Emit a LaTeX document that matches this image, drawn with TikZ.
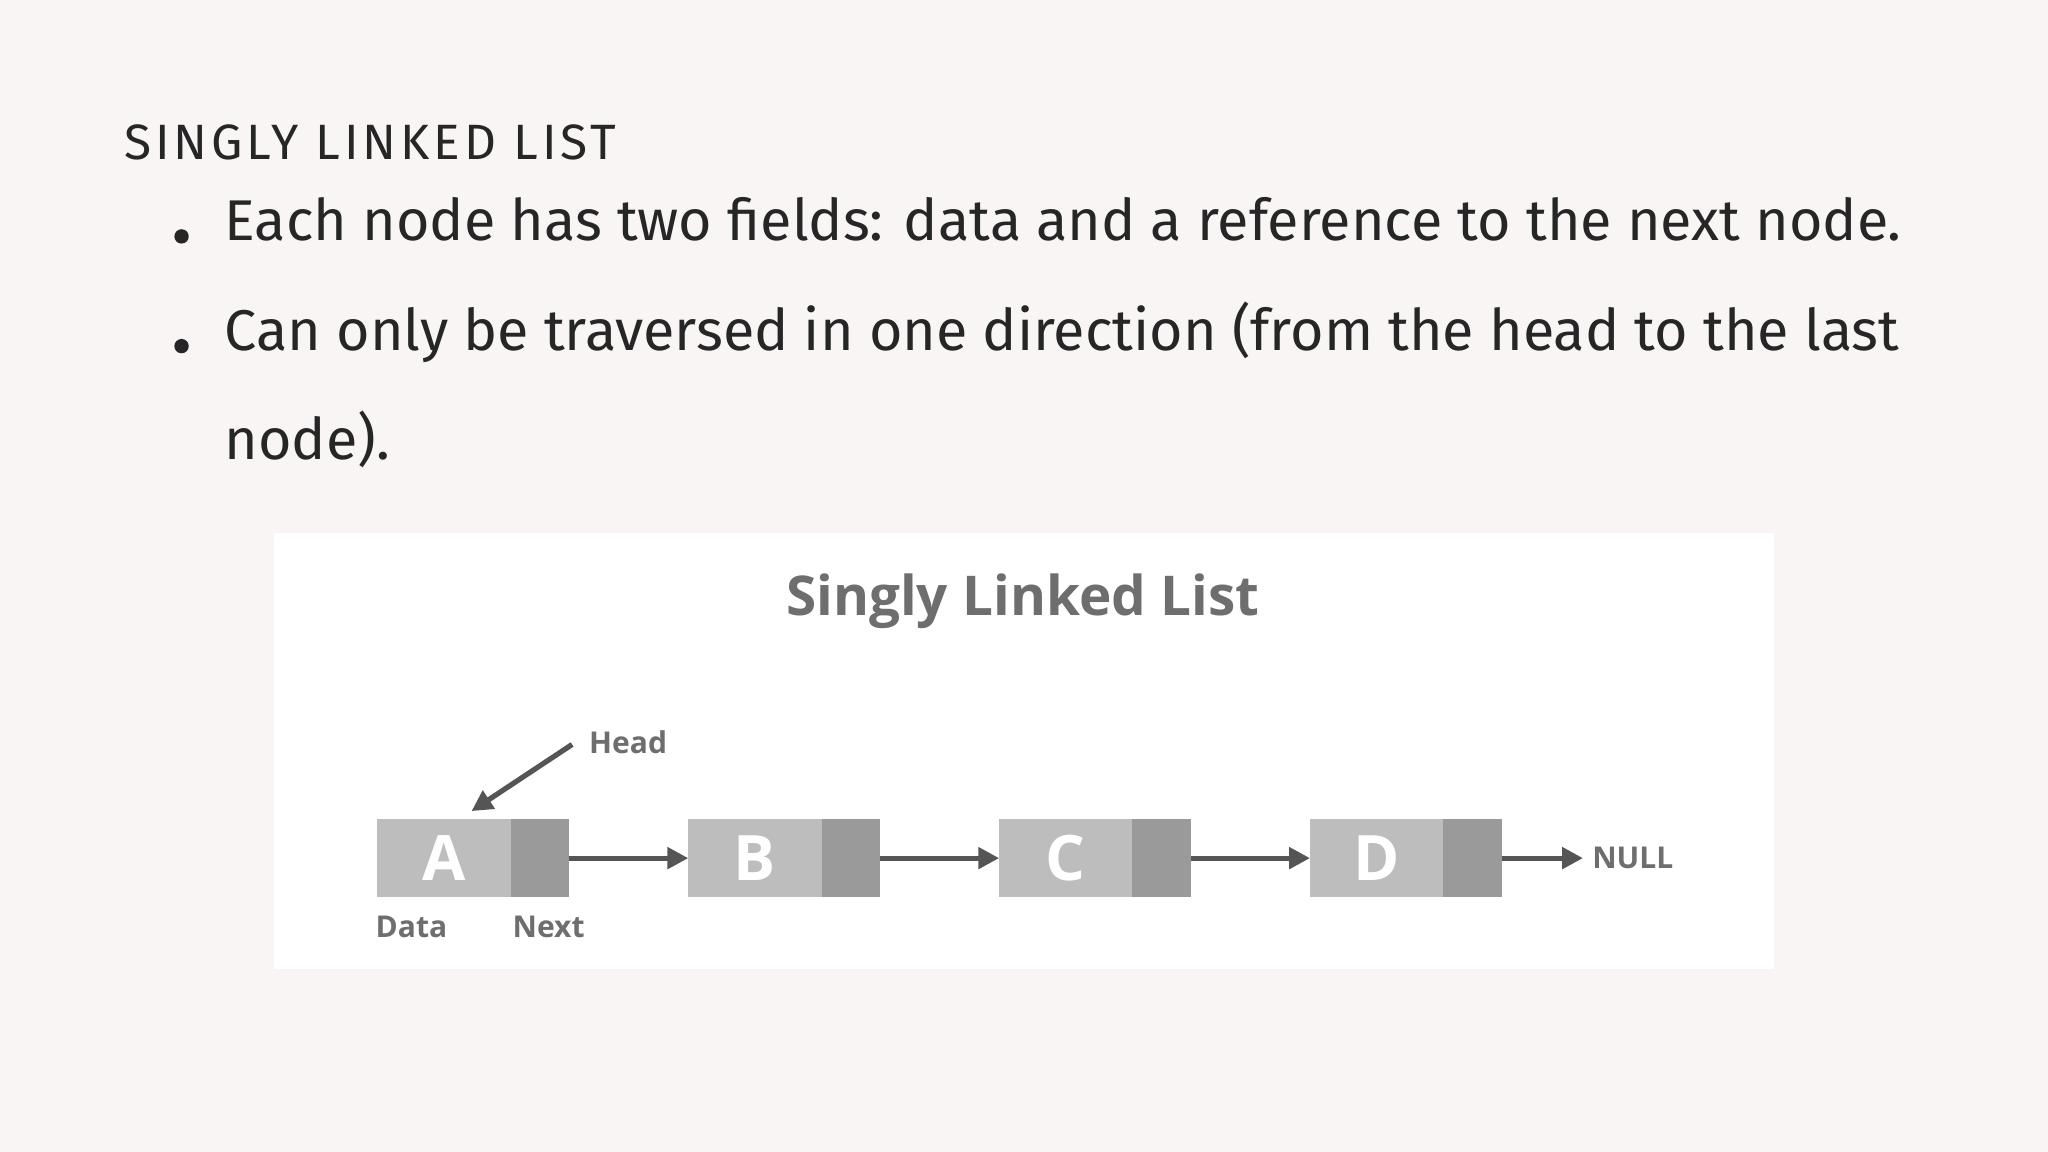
\documentclass[tikz,border=0pt]{standalone}
\usepackage{fontspec}
\setmainfont{Fira Sans}
\newfontfamily\osans{Open Sans}
\usetikzlibrary{arrows.meta}
\definecolor{bg}{HTML}{F8F5F4}
\definecolor{dbox}{HTML}{BDBDBD}
\definecolor{nbox}{HTML}{9A9A9A}
\definecolor{arr}{HTML}{555555}
\definecolor{ttl}{HTML}{6E6E6E}
\begin{document}
\begin{tikzpicture}[x=0.5pt,y=-0.5pt,
  letter/.style={text=white,font=\osans\bfseries\fontsize{24}{24}\selectfont},
  lbl/.style={text=ttl,font=\osans\bfseries\fontsize{11.5}{12}\selectfont},
  link/.style={draw=arr,line width=2pt,-{Triangle[length=8pt,width=8pt]}},
  bul/.style={anchor=base west,font=\fontsize{22}{26}\selectfont,text=black!85}]
\fill[bg] (0,0) rectangle (1568,882);
\useasboundingbox (0,0) rectangle (1568,882);
\node[anchor=base west,text=black!85,font=\fontsize{19}{20}\selectfont\addfontfeatures{LetterSpace=8}] (t) at (88,122) {SINGLY LINKED LIST};
\node[bul] (b1) at (165,184) {Each node has two fields: data and a reference to the next node.};
\node[bul] (b2) at (165,268) {Can only be traversed in one direction (from the head to the last};
\node[bul] (b3) at (165,352) {node).};
\fill[black!85] (139,181) circle (5.5);
\fill[black!85] (139,265) circle (5.5);
\fill[white] (210,408) rectangle (1358,742);
\node[text=ttl,font=\osans\bfseries\fontsize{21}{22}\selectfont] (st) at (783,460) {Singly Linked List};
\foreach \n/\x/\L in {a/289/A,b/527/B,c/765/C,d/1003/D}{
  \fill[dbox] (\x,627) rectangle ++(102,60);
  \fill[nbox] (\x+102,627) rectangle ++(45,60);
  \node[letter] (\n) at (\x+51,657) {\L};
  \coordinate (\n-in) at (\x,657);
  \coordinate (\n-out) at (\x+147,657);
}
\node[lbl,anchor=west] (null) at (1212,657) {NULL};
\draw[link] (a-out) -- (b-in);
\draw[link] (b-out) -- (c-in);
\draw[link] (c-out) -- (d-in);
\draw[link] (d-out) -- (null.west);
\node[lbl,anchor=west] (head) at (444,568) {Head};
\coordinate (hs) at (438,570);
\coordinate (he) at (361,621);
\draw[link] (hs) -- (he);
\node[lbl] (data) at (315,710) {Data};
\node[lbl] (next) at (420,710) {Next};
\end{tikzpicture}
\end{document}
